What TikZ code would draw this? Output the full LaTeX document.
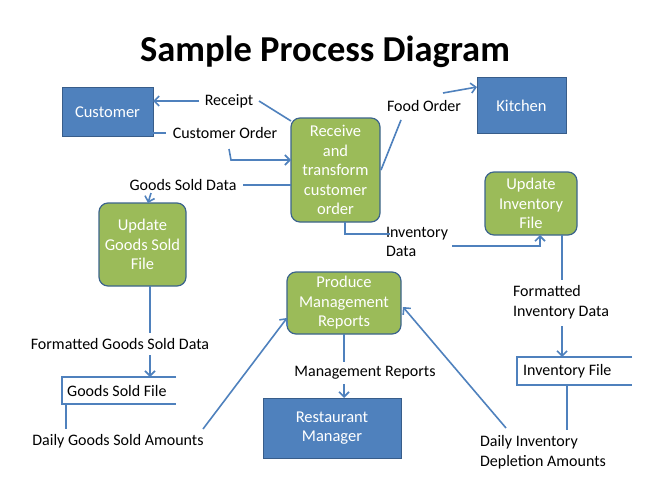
\documentclass[tikz,border=0pt]{standalone}
\usepackage{fontspec}
\setmainfont{Carlito}
\usetikzlibrary{arrows.meta}
\definecolor{bblue}{RGB}{79,129,189}
\definecolor{dblue}{RGB}{56,93,138}
\definecolor{gfill}{RGB}{155,187,89}
\definecolor{gline}{RGB}{60,100,140}
\begin{document}
\begin{tikzpicture}[x=1pt,y=-1pt,
  ext/.style={draw=dblue,line width=1pt,fill=bblue,text=white,font=\fontsize{16.5}{19}\selectfont,align=center},
  proc/.style={draw=gline,line width=1.2pt,fill=gfill,rounded corners=9pt,text=white,font=\fontsize{16.5}{19.5}\selectfont,align=center},
  lbl/.style={font=\fontsize{16}{19.5}\selectfont,align=left,inner sep=1pt},
  con/.style={draw=bblue,line width=1.6pt},
  arr/.style={con,-{Straight Barb[length=5pt,width=10pt]}}]
\useasboundingbox (0,0) rectangle (660,492);
\node[font=\bfseries\fontsize{36.5}{40}\selectfont] (title) at (325,52) {Sample Process Diagram};
% external entities
\draw[ext] (62,88) rectangle (153,136) node[midway] (cust) {Customer};
\coordinate (custR) at (153,101);
\draw[ext] (477,78) rectangle (566,133) node[midway] (kit) {Kitchen};
\draw[ext] (263,398) rectangle (401,458) node[midway] (mgr) {Restaurant\\Manager};
% processes
\node[proc,minimum width=89pt,minimum height=104pt] (recv) at (335.5,170) {Receive\\and\\transform\\customer\\order};
\node[proc,minimum width=87pt,minimum height=83pt] (ugs) at (142.5,244.5) {Update\\Goods Sold\\File};
\node[proc,minimum width=92pt,minimum height=63pt] (uinv) at (531,203.5) {Update\\Inventory\\File};
\node[proc,minimum width=114pt,minimum height=62pt] (pmr) at (344,303) {Produce\\Management\\Reports};
% data stores
\node[lbl,anchor=west] (gsf) at (66,391) {Goods Sold File};
\draw[con,line width=1.3pt] (176,377) -- (62,377) -- (62,404) -- (176,404);
\node[lbl,anchor=west] (invf) at (522,371) {Inventory File};
\draw[con,line width=1.3pt] (632,357) -- (517,357) -- (517,385) -- (632,385);
% labels
\node[lbl] (lrec) at (229,101) {Receipt};
\node[lbl] (lco) at (225,133) {Customer Order};
\node[lbl] (lgsd) at (183,185) {Goods Sold Data};
\node[lbl] (lfo) at (424,106) {Food Order};
\node[lbl] (lid) at (417,242) {Inventory\\Data};
\node[lbl] (lfgs) at (120,344) {Formatted Goods Sold Data};
\node[lbl] (lfid) at (561,302) {Formatted\\Inventory Data};
\node[lbl] (lmr) at (365,373) {Management Reports};
\node[lbl] (ldgs) at (118,441) {Daily Goods Sold Amounts};
\node[lbl] (ldid) at (543,452) {Daily Inventory\\Depletion Amounts};
% connectors
\coordinate (a1) at (291,121); \coordinate (a2) at (259,101);
\draw[con] (a1) -- (a2);
\coordinate (a3) at (199,101);
\draw[arr] (a3) -- (custR);
\coordinate (b0) at (153,133); \coordinate (b1) at (166,133);
\draw[con] (b0) -- (b1);
\coordinate (b2) at (229,149); \coordinate (b3) at (291,160);
\draw[arr] (b2) -- (231,160) -- (b3);
\coordinate (c1) at (291,185); \coordinate (c2) at (243,185);
\draw[con] (c1) -- (c2);
\coordinate (c3) at (151,193); \coordinate (c4) at (148,203);
\draw[arr] (c3) -- (c4);
\coordinate (d1) at (381,170); \coordinate (d2) at (401,120);
\draw[con] (d1) -- (d2);
\coordinate (d3) at (443,93); \coordinate (d4) at (477,87);
\draw[arr] (d3) -- (d4);
\coordinate (e1) at (345,222); \coordinate (e2) at (390,234);
\draw[con] (e1) -- (345,234) -- (e2);
\coordinate (e3) at (452,246); \coordinate (e4) at (540,235);
\draw[arr] (e3) -- (540,246) -- (e4);
\coordinate (f1) at (150,286); \coordinate (f2) at (150,333);
\draw[con] (f1) -- (f2);
\coordinate (f3) at (150,355); \coordinate (f4) at (150,377);
\draw[arr] (f3) -- (f4);
\coordinate (g1) at (562,235); \coordinate (g2) at (562,280);
\draw[con] (g1) -- (g2);
\coordinate (g3) at (562,326); \coordinate (g4) at (562,357);
\draw[arr] (g3) -- (g4);
\coordinate (h1) at (344,334); \coordinate (h2) at (344,362);
\draw[con] (h1) -- (h2);
\coordinate (h3) at (344,384); \coordinate (h4) at (344,398);
\draw[arr] (h3) -- (h4);
\coordinate (i1) at (66,404); \coordinate (i2) at (66,429);
\draw[con] (i1) -- (i2);
\coordinate (i3) at (203,429); \coordinate (i4) at (287,318);
\draw[arr] (i3) -- (i4);
\coordinate (j1) at (567,385); \coordinate (j2) at (567,430);
\draw[con] (j1) -- (j2);
\coordinate (j3) at (506,428); \coordinate (j4) at (403,307);
\draw[arr] (j3) -- (j4);
\end{tikzpicture}
\end{document}
